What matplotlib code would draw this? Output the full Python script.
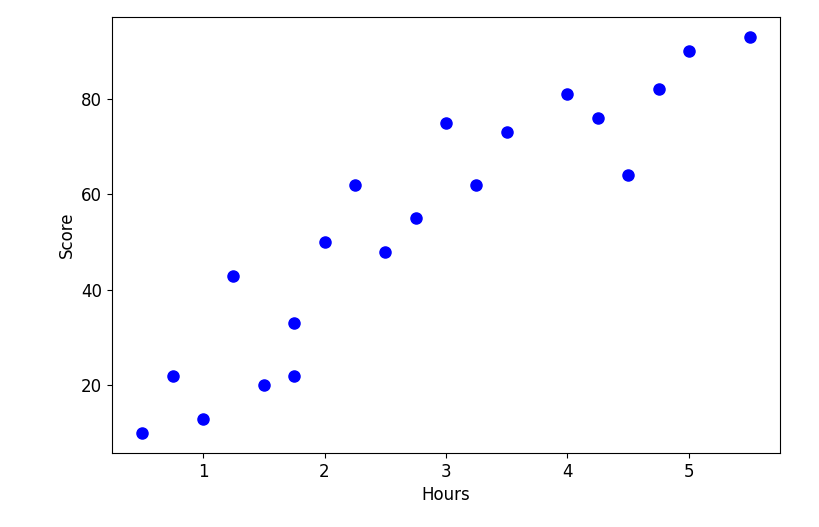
import matplotlib
matplotlib.use("Agg")
from matplotlib import pyplot as plt

hours = [0.5, 0.75, 1, 1.25, 1.5, 1.75, 1.75, 2, 2.25, 2.5,
         2.75, 3, 3.25, 3.5, 4, 4.25, 4.5, 4.75, 5, 5.5]
scores = [10, 22, 13, 43, 20, 22, 33, 50, 62, 48,
          55, 75, 62, 73, 81, 76, 64, 82, 90, 93]

fig = plt.figure(figsize=(8.2, 5.27), dpi=100)
ax = fig.add_axes([112/820, 1-453/527, 668/820, 436/527])
ax.plot(hours, scores, 'o', color='blue', markersize=8)
ax.set_xlabel('Hours', fontsize=12)
ax.set_ylabel('Score', fontsize=12)
ax.tick_params(labelsize=12)
fig.savefig('out.png')
